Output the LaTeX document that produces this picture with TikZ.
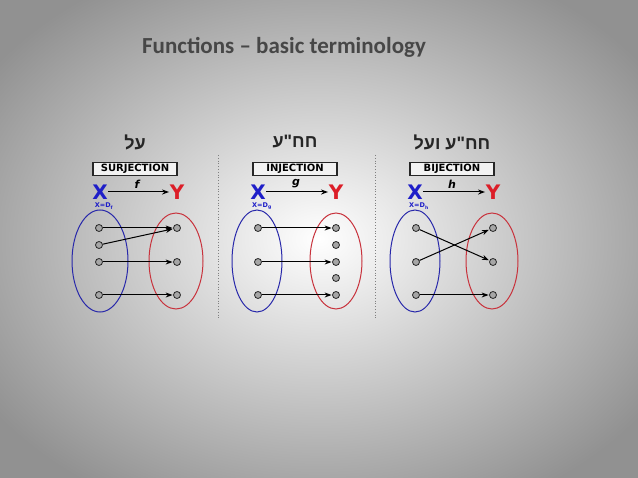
\documentclass[tikz,border=0pt]{standalone}
\usepackage{fontspec}
\setmainfont{DejaVu Sans}
\newfontfamily\hebfont[Script=Hebrew]{Liberation Sans}
\newfontfamily\titlefont{Carlito}
\TeXXeTstate=1
\usetikzlibrary{arrows.meta}
\definecolor{bgout}{RGB}{145,145,145}
\definecolor{xblue}{RGB}{30,30,200}
\definecolor{yred}{RGB}{220,30,40}
\definecolor{eblue}{RGB}{40,40,170}
\definecolor{ered}{RGB}{200,50,60}
\begin{document}
\begin{tikzpicture}[x=1pt,y=-1pt,
  dot/.style={circle,draw=black!85,fill=gray!70,line width=0.8pt,inner sep=0pt,minimum size=7pt},
  map/.style={-{Stealth[length=7pt,width=5pt]},line width=1pt,shorten >=0.5pt},
  lbl/.style={draw=black!85,line width=1.1pt,fill=gray!10,inner sep=1.5pt,minimum width=84pt,minimum height=13pt,font=\bfseries\fontsize{10}{10}\selectfont},
  heb/.style={font=\hebfont\bfseries\fontsize{18}{18}\selectfont,text=black!85},
  bigX/.style={font=\bfseries\fontsize{20}{20}\selectfont,text=xblue,inner sep=0pt},
  bigY/.style={font=\bfseries\fontsize{20}{20}\selectfont,text=yred,inner sep=0pt},
  sub/.style={font=\bfseries\fontsize{6.5}{6.5}\selectfont,text=xblue,inner sep=0pt},
  fn/.style={font=\bfseries\itshape\fontsize{11}{11}\selectfont,inner sep=0pt},
  sx/.style={draw=eblue,line width=1pt},
  sy/.style={draw=ered,line width=1pt},
  divider/.style={draw=gray,dotted,line width=0.8pt}]
\useasboundingbox (0,0) rectangle (638,478);
\fill[inner color=white,outer color=bgout] (-80,-60) rectangle (718,538);
\node[font=\titlefont\bfseries\fontsize{23}{23}\selectfont,text=black!72] (title) at (284,47) {Functions – basic terminology};
\draw[divider] (218,155) -- (218,318);
\draw[divider] (375,155) -- (375,318);
% panel 1
\node[heb] (h1) at (135,142) {\beginR על\endR};
\node[lbl] (b1) at (135,169) {SURJECTION};
\node[bigX] (X1) at (100,192) {X};
\node[bigY] (Y1) at (177,192) {Y};
\draw[map] (X1.east) -- (Y1.west);
\node[fn] at (137,184) {f};
\node[sub] at (104,206) {X=D\textsubscript{f}};
\draw[sx] (100,261) ellipse (28 and 51);
\draw[sy] (176,261) ellipse (27 and 48);
\node[dot] (a1) at (99,228) {};
\node[dot] (a2) at (99,245) {};
\node[dot] (a3) at (99,262) {};
\node[dot] (a4) at (99,295) {};
\node[dot] (c1) at (177,228) {};
\node[dot] (c2) at (177,262) {};
\node[dot] (c3) at (177,295) {};
\draw[map] (a1) -- (c1);
\draw[map] (a2) -- (c1);
\draw[map] (a3) -- (c2);
\draw[map] (a4) -- (c3);
% panel 2
\node[heb] (h2) at (295,142) {\beginR חח"ע\endR};
\node[lbl] (b2) at (295,169) {INJECTION};
\node[bigX] (X2) at (258,192) {X};
\node[bigY] (Y2) at (336,192) {Y};
\draw[map] (X2.east) -- (Y2.west);
\node[fn] at (296,184) {g};
\node[sub] at (262,206) {X=D\textsubscript{g}};
\draw[sx] (257,261) ellipse (25 and 51);
\draw[sy] (336,261) ellipse (26 and 48);
\node[dot] (d1) at (258,228) {};
\node[dot] (d2) at (258,262) {};
\node[dot] (d3) at (258,295) {};
\node[dot] (e1) at (336,228) {};
\node[dot] (e2) at (336,245) {};
\node[dot] (e3) at (336,262) {};
\node[dot] (e4) at (336,278) {};
\node[dot] (e5) at (336,295) {};
\draw[map] (d1) -- (e1);
\draw[map] (d2) -- (e3);
\draw[map] (d3) -- (e5);
% panel 3
\node[heb] (h3) at (452,142) {\beginR חח"ע ועל\endR};
\node[lbl] (b3) at (452,169) {BIJECTION};
\node[bigX] (X3) at (415,192) {X};
\node[bigY] (Y3) at (493,192) {Y};
\draw[map] (X3.east) -- (Y3.west);
\node[fn] at (452,184) {h};
\node[sub] at (419,206) {X=D\textsubscript{h}};
\draw[sx] (415,261) ellipse (25 and 51);
\draw[sy] (492,261) ellipse (26 and 48);
\node[dot] (k1) at (416,228) {};
\node[dot] (k2) at (416,262) {};
\node[dot] (k3) at (416,295) {};
\node[dot] (m1) at (493,228) {};
\node[dot] (m2) at (493,262) {};
\node[dot] (m3) at (493,295) {};
\draw[map] (k1) -- (m2);
\draw[map] (k2) -- (m1);
\draw[map] (k3) -- (m3);
\end{tikzpicture}
\end{document}
